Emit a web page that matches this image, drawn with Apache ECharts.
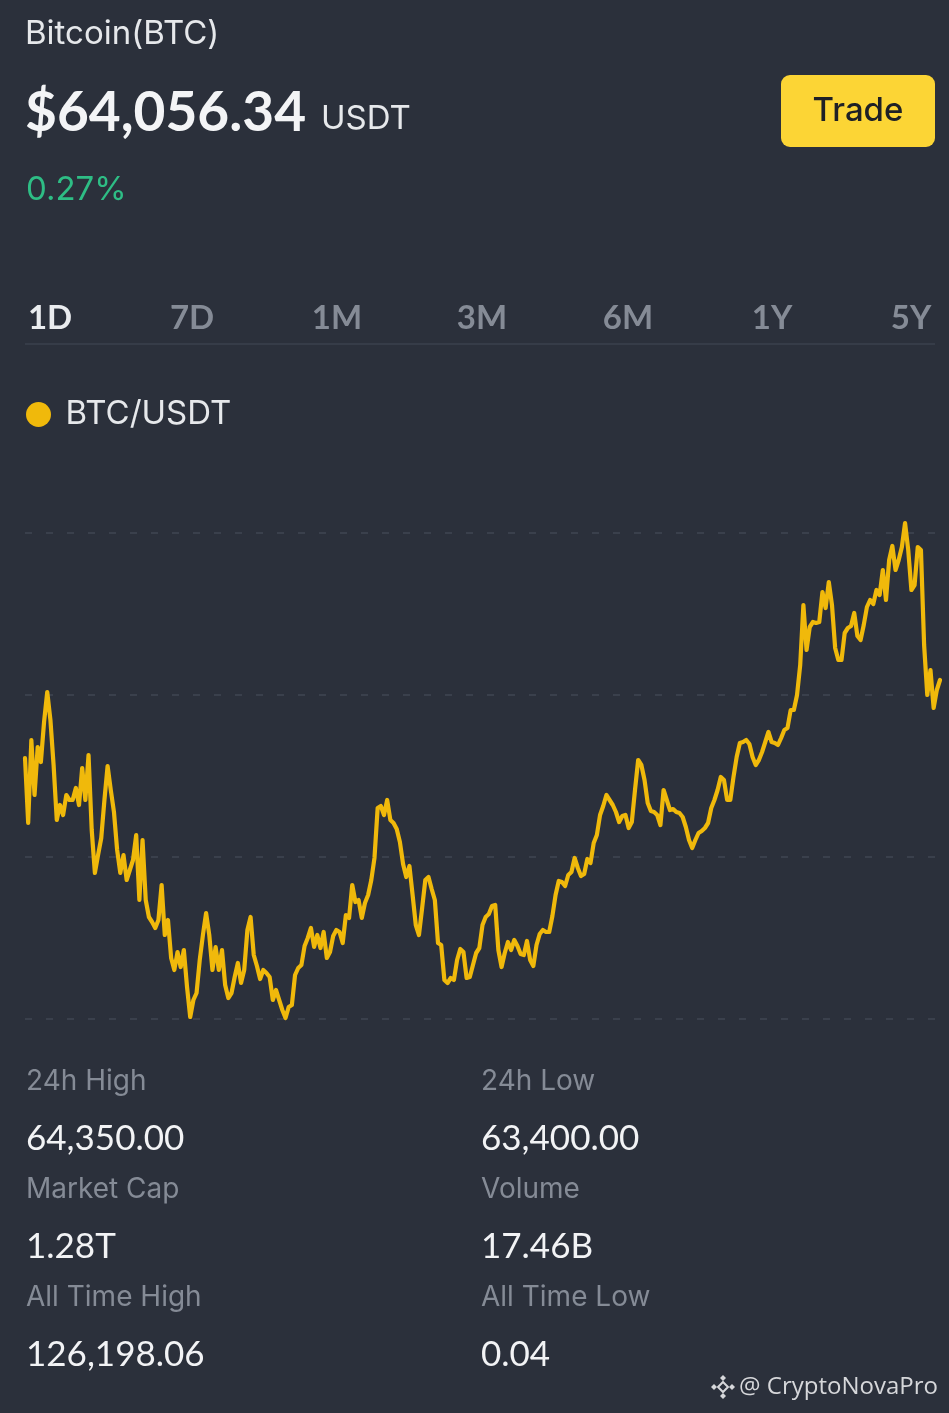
<!DOCTYPE html>
<html>
<head>
<meta charset="utf-8">
<script src="https://cdn.jsdelivr.net/npm/echarts@6/dist/echarts.min.js"></script>
<style>
  html, body { margin: 0; padding: 0; background: #2b303b; }
  #chart { width: 949px; height: 1413px; }
</style>
</head>
<body>
<div id="chart"></div>
<script>
// ---- data ----
const pairName = 'BTC/USDT';
const tabs = ['1D', '7D', '1M', '3M', '6M', '1Y', '5Y'];
const statLabels = ['24h High', '24h Low', 'Market Cap', 'Volume', 'All Time High', 'All Time Low'];
const statValues = ['64,350.00', '63,400.00', '1.28T', '17.46B', '126,198.06', '0.04'];
// BTC/USDT price, 5-minute steps over 24h (289 points)
const prices = [
  63922,63792,63958,63848,63944,63914,63994,64054,63998,63908,
  63798,63828,63808,63848,63838,63838,63862,63828,63902,63838,
  63928,63778,63692,63728,63762,63838,63906,63858,63814,63738,
  63692,63728,63678,63698,63718,63768,63638,63758,63638,63604,
  63594,63582,63598,63668,63568,63598,63522,63498,63534,63504,
  63538,63464,63404,63438,63452,63518,63568,63612,63568,63498,
  63544,63498,63538,63468,63442,63452,63484,63512,63472,63498,
  63578,63604,63528,63506,63480,63498,63492,63484,63438,63458,
  63438,63418,63402,63424,63428,63488,63502,63508,63546,63562,
  63582,63544,63568,63542,63574,63522,63534,63566,63578,63574,
  63552,63608,63602,63668,63634,63638,63602,63632,63648,63678,
  63722,63822,63826,63808,63838,63798,63792,63780,63754,63710,
  63684,63706,63648,63588,63568,63622,63678,63684,63660,63638,
  63552,63548,63478,63472,63482,63478,63518,63540,63534,63482,
  63484,63508,63532,63542,63588,63604,63610,63626,63628,63538,
  63504,63532,63554,63538,63558,63546,63530,63528,63556,63518,
  63506,63548,63570,63578,63574,63574,63606,63648,63676,63674,
  63666,63688,63694,63722,63702,63686,63690,63720,63712,63752,
  63768,63808,63826,63848,63838,63828,63814,63794,63806,63808,
  63782,63794,63858,63918,63908,63878,63832,63816,63814,63808,
  63788,63858,63838,63818,63820,63814,63812,63804,63784,63758,
  63742,63758,63772,63776,63782,63792,63822,63838,63858,63884,
  63878,63838,63838,63884,63924,63952,63954,63958,63950,63924,
  63908,63918,63934,63954,63974,63954,63952,63948,63962,63978,
  63982,64018,64018,64048,64108,64228,64138,64184,64194,64192,
  64194,64254,64222,64274,64228,64142,64118,64118,64172,64182,
  64186,64212,64166,64158,64188,64224,64238,64230,64258,64248,
  64298,64238,64318,64346,64298,64318,64344,64392,64338,64258,
  64268,64344,64338,64148,64048,64098,64022,64058,64078
];
// time categories (5-minute steps)
const times = [];
for (let m = 0; m < prices.length; m++) {
  const mins = (m * 5) % 1440;
  const h = String(Math.floor(mins / 60)).padStart(2, '0');
  const mm = String(mins % 60).padStart(2, '0');
  times.push(h + ':' + mm);
}
const yMin = 63400, yStep = 324, yMax = 64372;

// ---- styles ----
const FONT = 'Inter, Lato, sans-serif';
const NUMFONT = 'Lato, Inter, sans-serif';
const WHITE = '#eaecef';
const GREY = '#858b96';
const YELLOW = '#F0B90B';

const chart = echarts.init(document.getElementById('chart'), null, { renderer: 'canvas' });

const tabCenters = [50, 192, 337, 482, 628, 772, 911];
const graphics = [
  { type: 'text', x: 25, y: 34, style: { text: 'Bitcoin(BTC)', font: '400 33px ' + FONT, fill: '#e6e8eb', verticalAlign: 'middle' } },
  { type: 'text', x: 25, y: 113, style: { text: '$64,056.34', font: '700 55px ' + NUMFONT, fill: '#f3f4f6', verticalAlign: 'middle' } },
  { type: 'text', x: 321, y: 119, style: { text: 'USDT', font: '400 33px ' + FONT, fill: '#e6e8eb', verticalAlign: 'middle' } },
  { type: 'text', x: 26, y: 190, style: { text: '0.27%', font: '400 33px ' + FONT, fill: '#2ebd85', verticalAlign: 'middle' } },
  { type: 'rect', shape: { x: 781, y: 75, width: 154, height: 72, r: 9 }, style: { fill: '#fcd535' } },
  { type: 'text', x: 858, y: 111, style: { text: 'Trade', font: '500 33px ' + FONT, fill: '#1e2026', align: 'center', verticalAlign: 'middle' } },
  { type: 'line', shape: { x1: 25, y1: 344, x2: 935, y2: 344 }, style: { stroke: '#363c48', lineWidth: 2 } }
];
tabs.forEach((t, i) => {
  graphics.push({ type: 'text', x: tabCenters[i], y: 318, style: { text: t, font: (i === 0 ? '700 ' : '700 ') + '33px ' + NUMFONT, fill: i === 0 ? WHITE : GREY, align: 'center', verticalAlign: 'middle' } });
});
const colX = [26, 481];
const rowY = [1082, 1190, 1298];
statLabels.forEach((lab, k) => {
  const c = k % 2, r = Math.floor(k / 2);
  graphics.push({ type: 'text', x: colX[c], y: rowY[r], style: { text: lab, font: '400 28px ' + FONT, fill: GREY, verticalAlign: 'middle' } });
  graphics.push({ type: 'text', x: colX[c], y: rowY[r] + 57, style: { text: statValues[k], font: '400 35px ' + NUMFONT, fill: '#f2f3f5', verticalAlign: 'middle' } });
});
// watermark
graphics.push({ type: 'text', x: 938, y: 1387, style: { text: '@ CryptoNovaPro', font: '400 24px "Open Sans", sans-serif', fill: '#d6d7da', align: 'right', verticalAlign: 'middle' } });
const wm = '#d6d7da';
graphics.push({ type: 'group', x: 723, y: 1387, children: [
  { type: 'polygon', shape: { points: [[0, -5], [5, 0], [0, 5], [-5, 0]] }, style: { fill: 'none', stroke: wm, lineWidth: 2 } },
  { type: 'polygon', shape: { points: [[0, -12], [3, -9], [0, -6], [-3, -9]] }, style: { fill: wm } },
  { type: 'polygon', shape: { points: [[0, 6], [3, 9], [0, 12], [-3, 9]] }, style: { fill: wm } },
  { type: 'polygon', shape: { points: [[-12, 0], [-9, -3], [-6, 0], [-9, 3]] }, style: { fill: wm } },
  { type: 'polygon', shape: { points: [[6, 0], [9, -3], [12, 0], [9, 3]] }, style: { fill: wm } }
] });

chart.setOption({
  backgroundColor: '#2b303b',
  animation: false,
  textStyle: { fontFamily: FONT },
  legend: {
    show: true, left: 21, top: 393, icon: 'circle', itemWidth: 26, itemHeight: 25, itemGap: 10,
    data: [pairName],
    textStyle: { color: '#e6e8eb', fontSize: 33, fontFamily: FONT, padding: [0, 0, 0, 9] }
  },
  grid: { left: 25, right: 9, top: 533, bottom: 394 },
  xAxis: {
    type: 'category', data: times, boundaryGap: false,
    axisLine: { show: false }, axisTick: { show: false }, axisLabel: { show: false }, splitLine: { show: false }
  },
  yAxis: {
    type: 'value', min: yMin, max: yMax, interval: yStep,
    axisLine: { show: false }, axisTick: { show: false }, axisLabel: { show: false },
    splitLine: { show: true, lineStyle: { color: '#3a404c', type: [7, 14], width: 2 } }
  },
  series: [{
    name: pairName, type: 'line', data: prices, showSymbol: false, clip: false,
    lineStyle: { color: YELLOW, width: 4.2, join: 'round', cap: 'round' }, itemStyle: { color: YELLOW }
  }],
  graphic: graphics
});
</script>
</body>
</html>
